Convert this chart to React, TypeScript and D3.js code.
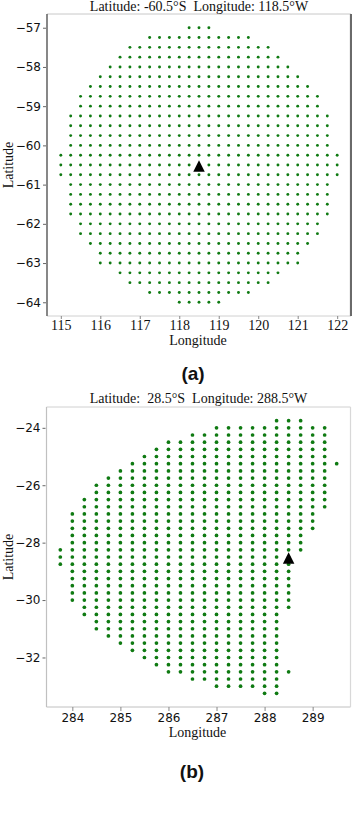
import React, { useEffect, useRef } from 'react';
import * as d3 from 'd3';

// ---- panel (a): grid points, one row per latitude (lon range)
const rowLatA = [-57, -57.25, -57.5, -57.75, -58, -58.25, -58.5, -58.75, -59, -59.25, -59.5, -59.75, -60, -60.25, -60.5,
  -60.75, -61, -61.25, -61.5, -61.75, -62, -62.25, -62.5, -62.75, -63, -63.25, -63.5, -63.75, -64];
const rowLonStartA = [118.25, 117.25, 116.75, 116.5, 116.25, 116, 115.75, 115.5, 115.5, 115.25, 115.25, 115.25, 115.25, 115, 115,
  115, 115.25, 115.25, 115.25, 115.25, 115.5, 115.5, 115.75, 116, 116, 116.5, 116.75, 117.25, 118];
const rowLonEndA = [118.75, 119.75, 120.25, 120.5, 120.75, 121, 121.25, 121.5, 121.5, 121.75, 121.75, 121.75, 121.75, 122, 122,
  122, 121.75, 121.75, 121.75, 121.75, 121.5, 121.5, 121.25, 121, 121, 120.5, 120.25, 119.75, 119];
const siteA = { lon: 118.5, lat: -60.5 };
const xTicksA = [115, 116, 117, 118, 119, 120, 121, 122];
const yTicksA = [-57, -58, -59, -60, -61, -62, -63, -64];

// ---- panel (b): grid points, one column per longitude (lat range)
const colLonB = [283.75, 284, 284.25, 284.5, 284.75, 285, 285.25, 285.5, 285.75, 286, 286.25, 286.5, 286.75, 287, 287.25,
  287.5, 287.75, 288, 288.25, 288.5, 288.75, 289, 289.25, 289.5];
const colLatTopB = [-28.25, -27, -26.5, -26, -25.75, -25.5, -25.25, -25, -24.75, -24.5, -24.5, -24.25, -24.25, -24, -24,
  -24, -24, -24, -23.75, -23.75, -23.75, -24, -24, -25.25];
const colLatBottomB = [-28.75, -30, -30.5, -31, -31.25, -31.5, -31.75, -32, -32.25, -32.5, -32.5, -32.75, -32.75, -33, -33,
  -33, -33, -33.25, -33.25, -30.25, -28.25, -27.5, -26.75, -25.25];
const extraLonB = [288.5];
const extraLatB = [-32.5];
const siteB = { lon: 288.5, lat: -28.5 };
const xTicksB = [284, 285, 286, 287, 288, 289];
const yTicksB = [-24, -26, -28, -30, -32];

const STEP = 0.25;
const GREEN = '#0f7a12';

function pointsA() {
  const pts: [number, number][] = [];
  rowLatA.forEach((lat, i) => {
    for (let lon = rowLonStartA[i]; lon <= rowLonEndA[i] + 1e-6; lon += STEP) pts.push([lon, lat]);
  });
  return pts;
}

function pointsB() {
  const pts: [number, number][] = [];
  colLonB.forEach((lon, i) => {
    for (let lat = colLatTopB[i]; lat >= colLatBottomB[i] - 1e-6; lat -= STEP) pts.push([lon, lat]);
  });
  extraLonB.forEach((lon, i) => pts.push([lon, extraLatB[i]]));
  return pts;
}

const triangle = (x: number, y: number, h: number) =>
  `M${x},${y - h / 2}L${x + h / 2},${y + h / 2}L${x - h / 2},${y + h / 2}Z`;

function App() {
  const svgRef = useRef<SVGSVGElement>(null);

  useEffect(() => {
    const svg = d3.select(svgRef.current);
    svg.selectAll('*').remove();

    const serif = '"Liberation Serif", "Times New Roman", serif';
    const sans = '"DejaVu Sans", sans-serif';

    const drawPanel = (opts: any) => {
      const { left, right, top, bottom, xDomain, yDomain, pts, site, xTicks, yTicks, title, titleY,
        xLabelY, xTickFont, xTickSize, xTickSz, xTickPad, r, spines } = opts;
      const x = d3.scaleLinear().domain(xDomain).range([left, right]);
      const y = d3.scaleLinear().domain(yDomain).range([top, bottom]);
      const g = svg.append('g');

      // points
      g.selectAll('circle.pt')
        .data(pts)
        .enter()
        .append('circle')
        .attr('class', 'pt')
        .attr('cx', (d: any) => x(d[0]))
        .attr('cy', (d: any) => y(d[1]))
        .attr('r', r)
        .attr('fill', GREEN);

      // site marker
      g.append('path')
        .attr('d', triangle(x(site.lon), y(site.lat) + 1, 11.5))
        .attr('fill', '#000');

      // spines
      g.append('line').attr('x1', left).attr('x2', right).attr('y1', top).attr('y2', top)
        .attr('stroke', spines.top).attr('stroke-width', 1);
      g.append('line').attr('x1', left).attr('x2', right).attr('y1', bottom).attr('y2', bottom)
        .attr('stroke', spines.bottom).attr('stroke-width', 1);
      g.append('line').attr('x1', left).attr('x2', left).attr('y1', top).attr('y2', bottom)
        .attr('stroke', spines.left).attr('stroke-width', spines.lw);
      g.append('line').attr('x1', right).attr('x2', right).attr('y1', top).attr('y2', bottom)
        .attr('stroke', spines.right).attr('stroke-width', spines.rw);

      // y axis
      const yAxis = g.append('g')
        .attr('transform', `translate(${left - 1},0)`)
        .call(d3.axisLeft(y).tickValues(yTicks).tickSize(3).tickPadding(2).tickFormat(d3.format('d')));
      yAxis.select('.domain').remove();
      yAxis.selectAll('line').attr('stroke', '#666');
      yAxis.selectAll('text').attr('font-family', sans).attr('font-size', 12).attr('fill', '#111');

      // x axis
      const xAxis = g.append('g')
        .attr('transform', `translate(0,${bottom})`)
        .call(d3.axisBottom(x).tickValues(xTicks).tickSize(xTickSz).tickPadding(xTickPad).tickFormat(d3.format('d')));
      xAxis.select('.domain').remove();
      xAxis.selectAll('line').attr('stroke', '#888');
      xAxis.selectAll('text').attr('font-family', xTickFont).attr('font-size', xTickSize).attr('fill', '#111');

      // titles / labels
      const cx = (left + right) / 2;
      svg.append('text').attr('x', cx).attr('y', titleY).attr('text-anchor', 'middle')
        .attr('font-family', serif).attr('font-size', 14).attr('fill', '#111')
        .attr('xml:space', 'preserve').text(title);
      svg.append('text').attr('x', cx - 1).attr('y', xLabelY).attr('text-anchor', 'middle')
        .attr('font-family', serif).attr('font-size', 14).attr('fill', '#111').text('Longitude');
      svg.append('text')
        .attr('transform', `translate(13,${(top + bottom) / 2}) rotate(-90)`)
        .attr('text-anchor', 'middle')
        .attr('font-family', serif).attr('font-size', 14).attr('fill', '#111').text('Latitude');
    };

    drawPanel({
      left: 47, right: 351, top: 14, bottom: 316,
      xDomain: [114.65, 122.35], yDomain: [-56.65, -64.35],
      pts: pointsA(), site: siteA, xTicks: xTicksA, yTicks: yTicksA,
      title: 'Latitude: -60.5°S  Longitude: 118.5°W', titleY: 11, xLabelY: 345,
      xTickFont: serif, xTickSize: 14, xTickSz: 3, xTickPad: 1, r: 1.45,
      spines: { top: '#c8c8c8', bottom: '#d0d0d0', left: '#6a6a6a', right: '#6a6a6a', lw: 1.6, rw: 2.2 },
    });

    drawPanel({
      left: 46.5, right: 350.5, top: 407, bottom: 707,
      xDomain: [283.4625, 289.7875], yDomain: [-23.275, -33.725],
      pts: pointsB(), site: siteB, xTicks: xTicksB, yTicks: yTicksB,
      title: 'Latitude:  28.5°S  Longitude: 288.5°W', titleY: 403, xLabelY: 737,
      xTickFont: sans, xTickSize: 12, xTickSz: 4, xTickPad: 2, r: 1.85,
      spines: { top: '#d0d0d0', bottom: '#c0c0c0', left: '#c0c0c0', right: '#d8d8d8', lw: 1.2, rw: 1.2 },
    });

    // panel captions
    svg.append('text').attr('x', 193).attr('y', 380).attr('text-anchor', 'middle')
      .attr('font-family', '"Liberation Sans", Arial, sans-serif').attr('font-weight', 'bold')
      .attr('font-size', 19).attr('fill', '#111').text('(a)');
    svg.append('text').attr('x', 192).attr('y', 778).attr('text-anchor', 'middle')
      .attr('font-family', '"Liberation Sans", Arial, sans-serif').attr('font-weight', 'bold')
      .attr('font-size', 19).attr('fill', '#111').text('(b)');
  }, []);

  return (
    <svg
      ref={svgRef}
      width={352}
      height={814}
      style={{ position: 'absolute', left: 0, top: 0, background: '#fff', display: 'block' }}
    />
  );
}

export default App;
